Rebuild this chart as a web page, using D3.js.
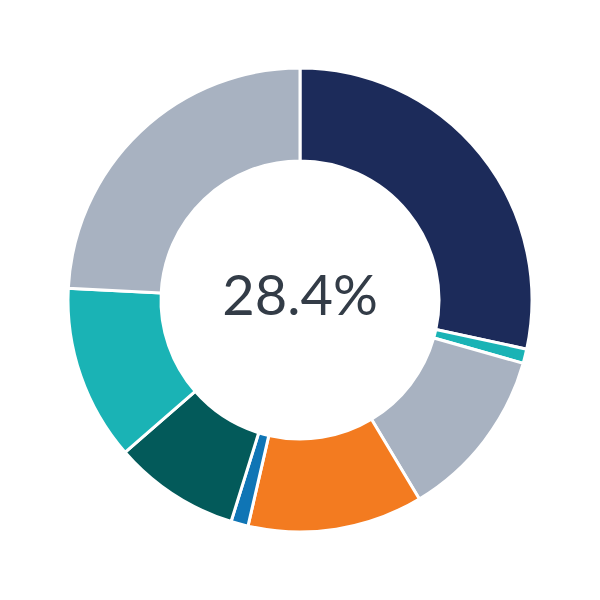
<!DOCTYPE html>
<html><head><meta charset="utf-8">
<script src="https://cdn.jsdelivr.net/npm/d3@7"></script>
<style>body{margin:0;background:#fff}</style>
</head><body>
<svg id="c" width="600" height="600"></svg>
<script>
const categories = ["A","B","C","D","E","F","G","H"];
const values = [28.4, 1.0, 12.0, 12.2, 1.2, 8.8, 12.2, 24.2];
const colors = ["#1c2b5a","#1ab3b5","#a8b2c1","#f37b20","#0f75b5","#035a5a","#1ab3b5","#a8b2c1"];
const centerLabel = "28.4%";

const svg = d3.select("#c");
const g = svg.append("g").attr("transform","translate(300,300)");
const pie = d3.pie().sort(null).value(d=>d.v);
const arc = d3.arc().innerRadius(139).outerRadius(232);
const data = categories.map((c,i)=>({c, v: values[i], col: colors[i]}));
g.selectAll("path").data(pie(data)).join("path")
  .attr("d", arc).attr("fill", d=>d.data.col)
  .attr("stroke","#fff").attr("stroke-width",3);
g.append("text").attr("text-anchor","middle").attr("y",15)
  .attr("font-family","Lato, 'Open Sans', sans-serif").attr("font-size",56)
  .attr("fill","#333c47").text(centerLabel);
</script>
</body></html>
